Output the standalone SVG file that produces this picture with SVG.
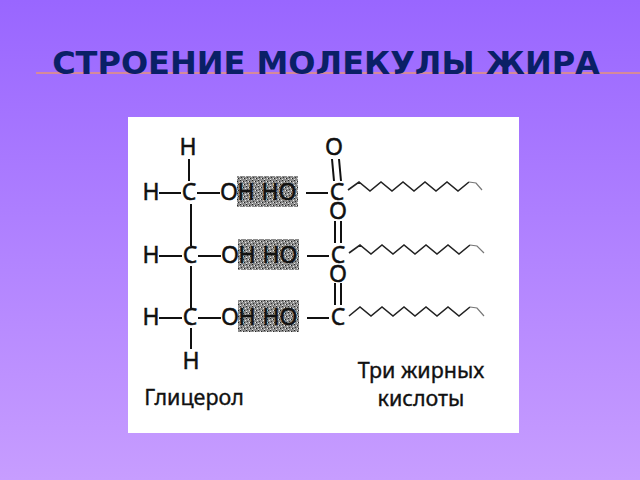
<svg xmlns="http://www.w3.org/2000/svg" width="640" height="480" viewBox="0 0 640 480">
<style>
.a{font-family:"Noto Sans","DejaVu Sans",sans-serif;font-size:23px;fill:#111;stroke:#111;stroke-width:.5;text-anchor:middle}
.l{font-family:"Noto Sans","DejaVu Sans",sans-serif;font-size:21.5px;fill:#111;stroke:#111;stroke-width:.35;text-anchor:middle}
.b{stroke:#111;stroke-width:2;fill:none}
.z{stroke:#222;stroke-width:1.6;fill:none}
.f{stroke:#777;stroke-width:1.2;fill:none}
.s{fill:url(#dots)}
</style>
<defs>
<linearGradient id="bg" x1="0" y1="0" x2="0" y2="1"><stop offset="0" stop-color="#9966ff"/><stop offset="1" stop-color="#c79dff"/></linearGradient>
<pattern id="dots" width="6" height="6" patternUnits="userSpaceOnUse">
<rect width="6" height="6" fill="#8c8c8c"/>
<rect x="0" y="0" width="1" height="1" fill="#222"/>
<rect x="3" y="1" width="1" height="1" fill="#222"/>
<rect x="1" y="3" width="1" height="1" fill="#333"/>
<rect x="4" y="4" width="1" height="1" fill="#222"/>
<rect x="2" y="1" width="1" height="1" fill="#e8e8e8"/>
<rect x="5" y="2" width="1" height="1" fill="#e8e8e8"/>
<rect x="0" y="5" width="1" height="1" fill="#e8e8e8"/>
<rect x="3" y="4" width="1" height="1" fill="#e8e8e8"/>
</pattern>
</defs>
<rect width="640" height="480" fill="url(#bg)"/>
<rect x="36" y="72" width="604" height="2" fill="#d58a9a"/>
<text x="326" y="74" font-family="DejaVu Sans,sans-serif" font-weight="700" font-size="32" fill="#0a2066" text-anchor="middle">СТРОЕНИЕ МОЛЕКУЛЫ ЖИРА</text>
<rect x="128" y="117" width="391" height="316" fill="#fff"/>
<g id="shading">
<rect class="s" x="237" y="176" width="61" height="31"/>
<rect class="s" x="238" y="239" width="61" height="31"/>
<rect class="s" x="238" y="300" width="61" height="32"/>
</g>
<g id="connectors">
<path class="b" d="M189 159V181M159 193H181M197 193H220M191 204V246M159 256H182M198 256H221M191 266V310M159 318H182M198 318H221M191 328V349"/>
<path class="b" d="M306 193H328M307 256H329M307 318H329"/>
<path class="b" d="M332 159L334 181M339 159L341 181M335 221V243M341 221V243M335 283V305M341 283V305"/>
<path class="z" d="M348 190L359 182L370 191L381 182L392 191L403 182L414 191L425 182L436 191L447 182L458 191L469 182"/>
<path class="f" d="M469 182L476 183L482 190"/>
<path class="z" d="M349 253L360 245L371 254L382 245L393 254L404 245L415 254L426 245L437 254L448 245L459 254L470 245"/>
<path class="f" d="M470 245L477 246L484 253"/>
<path class="z" d="M349 316L360 307L371 316L382 307L393 316L404 307L415 316L426 307L437 316L448 307L459 316L470 307"/>
<path class="f" d="M470 307L477 308L484 316"/>
</g>
<g id="glycerol">
<text class="a" x="188" y="155">H</text>
<text class="a" x="151" y="200">H</text><text class="a" x="189" y="200">C</text><text class="a" x="229" y="200">O</text>
<text class="a" x="151" y="263">H</text><text class="a" x="190" y="263">C</text><text class="a" x="230" y="263">O</text>
<text class="a" x="151" y="325">H</text><text class="a" x="190" y="325">C</text><text class="a" x="230" y="325">O</text>
<text class="a" x="191" y="369">H</text>
</g>
<g id="water">
<text class="a" x="246" y="200">H</text><text class="a" x="279" y="200">HO</text>
<text class="a" x="247" y="263">H</text><text class="a" x="280" y="263">HO</text>
<text class="a" x="247" y="325">H</text><text class="a" x="280" y="325">HO</text>
</g>
<g id="acids">
<text class="a" x="334" y="155">O</text>
<text class="a" x="337" y="200">C</text><text class="a" x="338" y="219">O</text>
<text class="a" x="338" y="263">C</text><text class="a" x="338" y="282">O</text>
<text class="a" x="338" y="325">C</text>
</g>
<g id="labels">
<text class="l" x="194" y="405">Глицерол</text>
<text class="l" x="421" y="378">Три жирных</text>
<text class="l" x="421" y="406">кислоты</text>
</g>
</svg>
